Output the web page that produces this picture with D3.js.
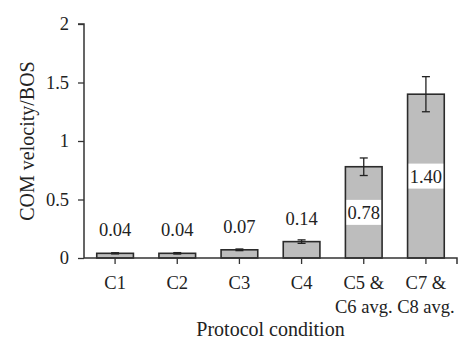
<!DOCTYPE html>
<html>
<head>
<meta charset="utf-8">
<script src="https://cdn.jsdelivr.net/npm/d3@7"></script>
<style>
  body { margin: 0; background: #fff; }
  text { font-family: "Liberation Serif", "DejaVu Serif", serif; fill: #222; }
</style>
</head>
<body>
<svg id="chart" width="474" height="353"></svg>
<script>
// values
var categories = ['C1', 'C2', 'C3', 'C4', 'C5 &\nC6 avg.', 'C7 &\nC8 avg.'];
var means = [0.04, 0.04, 0.07, 0.14, 0.78, 1.40];
var errors = [0.005, 0.006, 0.007, 0.015, 0.075, 0.15];
var labels = ['0.04', '0.04', '0.07', '0.14', '0.78', '1.40'];
// last two get their label inside the bar, on a white box
var insideLabel = [false, false, false, false, true, true];
var yTicks = [0, 0.5, 1, 1.5, 2];

var svg = d3.select('#chart');
var margin = {left: 84, right: 17, top: 24, bottom: 95};
var width = 474 - margin.left - margin.right;
var height = 353 - margin.top - margin.bottom;
var fs = '18.5px';

var g = svg.append('g')
  .attr('transform', 'translate(' + margin.left + ',' + margin.top + ')');

var x = d3.scaleBand()
  .domain(d3.range(categories.length))
  .range([0, width])
  .paddingInner(0.41)
  .paddingOuter(0.205);

var y = d3.scaleLinear()
  .domain([0, 2])
  .range([height, 0]);

var data = means.map(function(m, i) {
  return {i: i, mean: m, err: errors[i], label: labels[i], inside: insideLabel[i]};
});

// bars
g.selectAll('rect.bar')
  .data(data)
  .enter()
  .append('rect')
  .attr('class', 'bar')
  .attr('x', function(d) { return x(d.i); })
  .attr('y', function(d) { return y(d.mean); })
  .attr('width', x.bandwidth())
  .attr('height', function(d) { return height - y(d.mean); })
  .attr('fill', '#bdbdbd')
  .attr('stroke', '#2b2b2b')
  .attr('stroke-width', 1.6);

// error bars
var cap = 4;
var eb = g.selectAll('g.err')
  .data(data)
  .enter()
  .append('g')
  .attr('class', 'err')
  .attr('stroke', '#222')
  .attr('stroke-width', 1.3);
eb.append('line')
  .attr('x1', function(d) { return x(d.i) + x.bandwidth() / 2; })
  .attr('x2', function(d) { return x(d.i) + x.bandwidth() / 2; })
  .attr('y1', function(d) { return y(d.mean + d.err); })
  .attr('y2', function(d) { return y(d.mean - d.err); });
eb.selectAll('line.cap')
  .data(function(d) { return [d.mean + d.err, d.mean - d.err].map(function(v) { return {i: d.i, v: v}; }); })
  .enter()
  .append('line')
  .attr('class', 'cap')
  .attr('x1', function(d) { return x(d.i) + x.bandwidth() / 2 - cap; })
  .attr('x2', function(d) { return x(d.i) + x.bandwidth() / 2 + cap; })
  .attr('y1', function(d) { return y(d.v); })
  .attr('y2', function(d) { return y(d.v); });

// value labels above small bars
g.selectAll('text.val')
  .data(data.filter(function(d) { return !d.inside; }))
  .enter()
  .append('text')
  .attr('class', 'val')
  .attr('x', function(d) { return x(d.i) + x.bandwidth() / 2; })
  .attr('y', function(d) { return y(d.mean) - 17; })
  .attr('text-anchor', 'middle')
  .style('font-size', fs)
  .text(function(d) { return d.label; });

// labels inside the tall bars
var boxH = 25;
var inner = g.selectAll('g.inlbl')
  .data(data.filter(function(d) { return d.inside; }))
  .enter()
  .append('g')
  .attr('class', 'inlbl');
inner.append('rect')
  .attr('x', function(d) { return x(d.i) + 1; })
  .attr('y', function(d) { return y(d.mean / 2) - boxH / 2; })
  .attr('width', x.bandwidth() - 2)
  .attr('height', boxH)
  .attr('fill', '#fff');
inner.append('text')
  .attr('x', function(d) { return x(d.i) + x.bandwidth() / 2; })
  .attr('y', function(d) { return y(d.mean / 2) + 6.5; })
  .attr('text-anchor', 'middle')
  .style('font-size', fs)
  .text(function(d) { return d.label; });

// y axis
var yAxis = g.append('g')
  .call(d3.axisLeft(y).tickValues(yTicks).tickSize(6).tickPadding(9)
    .tickFormat(function(d) { return String(d); }));
yAxis.select('.domain').attr('stroke', '#333').attr('stroke-width', 1.5)
  .attr('d', 'M-6,0H0V' + height);
yAxis.selectAll('.tick line').attr('stroke', '#333').attr('stroke-width', 1.3);
yAxis.selectAll('.tick text')
  .style('font-size', fs)
  .style('font-family', '"Liberation Serif", serif')
  .attr('fill', '#222');

// x axis
var xAxis = g.append('g')
  .attr('transform', 'translate(0,' + height + ')')
  .call(d3.axisBottom(x).tickSize(6).tickFormat(''));
xAxis.select('.domain').attr('stroke', '#333').attr('stroke-width', 1.5)
  .attr('d', 'M0,0H' + width + 'V6');
xAxis.selectAll('.tick line').attr('stroke', '#333').attr('stroke-width', 1.3);

xAxis.selectAll('.tick')
  .append('text')
  .attr('text-anchor', 'middle')
  .attr('fill', '#222')
  .style('font-size', fs)
  .style('font-family', '"Liberation Serif", serif')
  .each(function(d) {
    var lines = categories[d].split('\n');
    d3.select(this).selectAll('tspan')
      .data(lines)
      .enter()
      .append('tspan')
      .attr('x', 0)
      .attr('y', function(l, k) { return 31 + k * 24; })
      .text(function(l) { return l; });
  });

// axis titles
g.append('text')
  .attr('x', width / 2)
  .attr('y', height + 78)
  .attr('text-anchor', 'middle')
  .style('font-size', '20px')
  .text('Protocol condition');

g.append('text')
  .attr('transform', 'translate(' + (-50) + ',' + (141 - margin.top) + ') rotate(-90)')
  .attr('text-anchor', 'middle')
  .style('font-size', '20px')
  .text('COM velocity/BOS');
</script>
</body>
</html>
